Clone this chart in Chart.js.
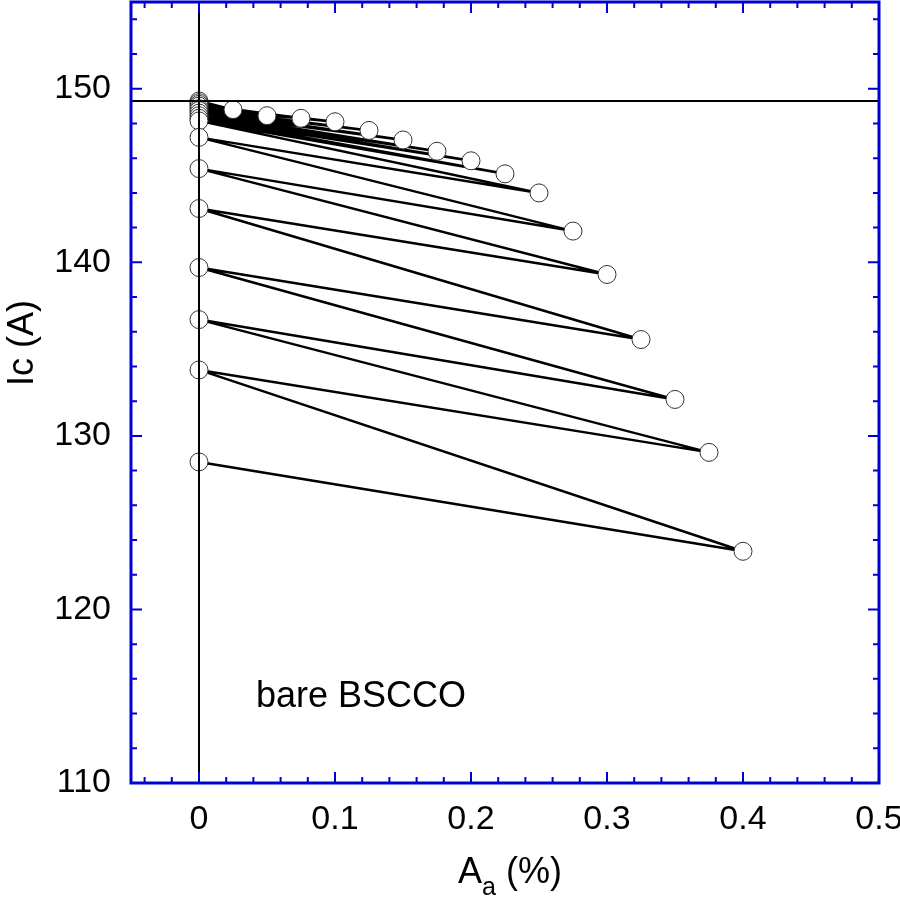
<!DOCTYPE html>
<html>
<head>
<meta charset="utf-8">
<script src="https://cdn.jsdelivr.net/npm/chart.js@4.4.1/dist/chart.umd.min.js"></script>
<style>
  html, body { margin: 0; padding: 0; background: #fff; }
  #wrap { width: 900px; height: 903px; }
</style>
</head>
<body>
<div id="wrap"><canvas id="icChart"></canvas></div>
<script>
// applied strain for each loading step (%)
const strainLevels = [0.025, 0.05, 0.075, 0.1, 0.125, 0.15, 0.175, 0.2,
                      0.225, 0.25, 0.275, 0.3, 0.325, 0.35, 0.375, 0.4];
// Ic measured under strain
const icUnderStrain = [148.8, 148.45, 148.3, 148.1, 147.6, 147.05, 146.4, 145.85,
                       145.1, 144.0, 141.8, 139.3, 135.55, 132.1, 129.05, 123.35];
// Ic measured at zero strain: before first step and after each release
const icReleased = [149.3, 149.2, 149.1, 149.0, 148.85, 148.75, 148.6, 148.45,
                    148.3, 148.15, 147.2, 145.4, 143.1, 139.7, 136.7, 133.8, 128.5];
const xTickLabels = [0, 0.1, 0.2, 0.3, 0.4, 0.5];
const yTickLabels = [110, 120, 130, 140, 150];
const refIc = 149.3;

// zigzag: released -> strained -> released -> ...
const points = [{ x: 0, y: icReleased[0] }];
strainLevels.forEach((s, i) => {
  points.push({ x: s, y: icUnderStrain[i] });
  points.push({ x: 0, y: icReleased[i + 1] });
});

const blue = '#0000d2';
const font = '"Liberation Sans", Arial, Helvetica, sans-serif';

function noPad(s) {
  s.paddingLeft = 0; s.paddingRight = 0;
  s.paddingTop = 0; s.paddingBottom = 0;
}

const framePlugin = {
  id: 'frame',
  afterDatasetsDraw(chart) {
    const { ctx, chartArea: a, scales: { x, y } } = chart;
    ctx.save();
    ctx.strokeStyle = '#000';
    ctx.lineWidth = 2;
    const x0 = x.getPixelForValue(0);
    const yr = y.getPixelForValue(refIc);
    ctx.beginPath();
    ctx.moveTo(x0, a.top); ctx.lineTo(x0, a.bottom);
    ctx.moveTo(a.left, yr); ctx.lineTo(a.right, yr);
    ctx.stroke();
    ctx.restore();
  },
  afterDraw(chart) {
    const { ctx, chartArea: a, scales: { x, y } } = chart;
    ctx.save();
    // inward ticks on all four sides
    ctx.strokeStyle = blue;
    ctx.lineWidth = 2;
    ctx.beginPath();
    for (let k = -2; k <= 25; k++) {
      const px = x.getPixelForValue(k * 0.02);
      const len = k % 5 === 0 ? 11 : 6;
      ctx.moveTo(px, a.bottom); ctx.lineTo(px, a.bottom - len);
      ctx.moveTo(px, a.top); ctx.lineTo(px, a.top + len);
    }
    for (let v = 110; v <= 154; v += 2) {
      const py = y.getPixelForValue(v);
      const len = v % 10 === 0 ? 11 : 6;
      ctx.moveTo(a.left, py); ctx.lineTo(a.left + len, py);
      ctx.moveTo(a.right, py); ctx.lineTo(a.right - len, py);
    }
    ctx.stroke();
    ctx.lineWidth = 3;
    ctx.strokeRect(a.left, a.top, a.right - a.left, a.bottom - a.top);

    ctx.fillStyle = '#000';
    // annotation
    ctx.font = '36px ' + font;
    ctx.textAlign = 'left';
    ctx.textBaseline = 'alphabetic';
    ctx.fillText('bare BSCCO', 256, 707);

    // y title
    ctx.save();
    ctx.translate(33, 343);
    ctx.rotate(-Math.PI / 2);
    ctx.textAlign = 'center';
    ctx.fillText('Ic (A)', 0, 0);
    ctx.restore();

    // x title with subscript
    const big = '36px ' + font, small = '25px ' + font;
    ctx.font = big;
    const wA = ctx.measureText('A').width;
    const wRest = ctx.measureText(' (%)').width;
    ctx.font = small;
    const wa = ctx.measureText('a').width;
    let cx = 510 - (wA + wa + wRest) / 2;
    const base = 883;
    ctx.font = big;
    ctx.fillText('A', cx, base); cx += wA;
    ctx.font = small;
    ctx.fillText('a', cx, base + 12); cx += wa;
    ctx.font = big;
    ctx.fillText(' (%)', cx, base);
    ctx.restore();
  }
};

new Chart('icChart', {
  type: 'line',
  data: {
    datasets: [{
      data: points,
      borderColor: '#000',
      borderWidth: 2.5,
      tension: 0,
      pointRadius: 9,
      pointHoverRadius: 9,
      pointBackgroundColor: '#fff',
      pointBorderColor: '#333',
      pointBorderWidth: 1
    }]
  },
  options: {
    responsive: true,
    maintainAspectRatio: false,
    animation: false,
    layout: { autoPadding: false, padding: { top: 2, right: 21, left: 0, bottom: 0 } },
    scales: {
      x: {
        type: 'linear',
        min: -0.05,
        max: 0.5,
        grid: { display: false },
        border: { display: false },
        afterBuildTicks: (s) => { s.ticks = xTickLabels.map(v => ({ value: v })); },
        afterFit: (s) => { s.height = 120; noPad(s); },
        ticks: {
          color: '#000',
          padding: 8,
          maxRotation: 0,
          font: { family: font, size: 34 },
          callback: (v) => String(Math.round(v * 10) / 10)
        }
      },
      y: {
        min: 110,
        max: 155,
        grid: { display: false },
        border: { display: false },
        afterBuildTicks: (s) => { s.ticks = yTickLabels.map(v => ({ value: v })); },
        afterFit: (s) => { s.width = 131; noPad(s); },
        ticks: {
          color: '#000',
          padding: 12,
          font: { family: font, size: 34 }
        }
      }
    },
    plugins: {
      legend: { display: false },
      tooltip: { enabled: false }
    }
  },
  plugins: [framePlugin]
});
</script>
</body>
</html>
